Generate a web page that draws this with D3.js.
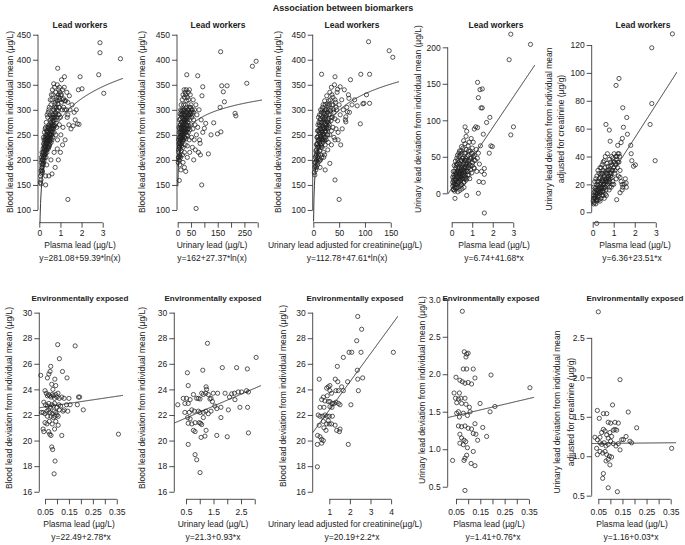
<!DOCTYPE html>
<html>
<head>
<meta charset="utf-8">
<script src="https://cdn.jsdelivr.net/npm/d3@7"></script>
<style>
  body { margin: 0; background: #fff; }
  svg text { font-family: "Liberation Sans", Arial, Helvetica, sans-serif; fill: #222; }
</style>
</head>
<body>
<div id="chart"></div>
<script>
// ---- data ----
const mainTitle = 'Association between biomarkers';
const groupTitles = ['Lead workers', 'Environmentally exposed'];

// Lead workers: plasma lead vs blood lead
const wkPlasmaBlood = [
  [0.08,160],[0.1,172],[0.12,185],[0.1,195],[0.14,200],[0.15,178],[0.18,190],[0.2,205],[0.22,198],[0.2,215],
  [0.25,210],[0.24,222],[0.28,215],[0.3,228],[0.27,235],[0.32,205],[0.33,240],[0.35,220],[0.36,232],[0.38,248],
  [0.4,226],[0.4,255],[0.42,238],[0.44,262],[0.45,245],[0.46,230],[0.48,252],[0.5,268],[0.5,240],[0.52,258],
  [0.54,275],[0.55,248],[0.56,235],[0.58,262],[0.6,282],[0.6,255],[0.62,270],[0.64,245],[0.65,290],[0.66,262],
  [0.68,278],[0.7,300],[0.7,255],[0.72,285],[0.74,268],[0.75,310],[0.76,295],[0.78,250],[0.8,280],[0.8,320],
  [0.82,265],[0.84,300],[0.86,240],[0.88,312],[0.9,290],[0.92,325],[0.95,270],[0.96,305],[1.0,330],[1.0,285],
  [1.02,250],[1.05,315],[1.08,300],[1.1,340],[1.12,265],[1.15,322],[1.18,345],[1.2,300],[1.22,240],[1.25,318],
  [1.3,335],[1.32,285],[1.35,315],[1.4,270],[1.42,328],[1.45,300],[1.5,262],[1.55,310],[1.6,268],[1.65,295],
  [1.7,280],[1.75,300],[1.8,272],[0.05,155],[0.3,150],[0.45,168],[0.6,172],[0.75,185],[0.9,200],[1.0,215],
  [1.1,230],[0.35,190],[0.55,200],[0.7,215],[0.85,222],[0.3,265],[0.4,285],[0.45,300],[0.55,310],[0.6,320],
  [0.5,290],[0.65,330],[0.72,345],[0.85,350],[0.95,345],[1.05,360],[0.15,210],[0.18,222],[0.2,232],[0.22,240],
  [0.25,228],[0.28,245],[0.3,212],[0.3,250],[0.32,232],[0.34,258],[0.36,215],[0.38,238],[0.4,242],[0.42,222],
  [0.42,265],[0.44,235],[0.46,255],[0.48,228],[0.5,250],[0.52,238],[0.54,262],[0.56,250],[0.58,272],[0.6,240],
  [0.62,258],[0.64,268],[0.35,245],[0.25,218],[0.18,205],[0.12,200],[0.16,192],[0.3,168],[0.08,152],
  [0.1,180],[0.12,190],[0.14,185],[0.16,200],[0.18,215],[0.2,195],[0.22,210],[0.24,230],[0.26,205],[0.28,225],
  [0.3,240],[0.32,220],[0.34,235],[0.36,250],[0.38,225],[0.4,265],[0.42,248],[0.44,225],[0.46,270],[0.48,240],
  [0.5,260],[0.52,280],[0.54,245],[0.56,268],[0.58,285],[0.6,265],[0.62,290],[0.64,278],[0.66,300],[0.68,268],
  [0.7,290],[0.72,305],[0.74,280],[0.76,315],[0.78,290],[0.8,305],[0.82,325],[0.84,285],[0.86,318],[0.88,298],
  [0.9,330],[0.92,305],[0.94,290],[0.96,320],[0.98,335],[0.7,270],[0.66,285],[0.58,250],[0.5,232],[0.44,245],
  [0.38,258],[0.26,240],[0.22,225],[0.14,175],[0.06,168],[0.08,178],[0.1,205],[0.13,215],[0.2,245],[0.24,255],
  [0.28,262],[0.33,275],[0.37,290],[0.42,295],[0.47,305],[0.52,320],[0.57,330],[0.62,340],[0.68,352],[0.78,335],
  [0.92,340],[1.05,330],[1.1,320],[1.15,305],[1.2,318],[1.28,300],[1.35,290],
  [2.87,434],[2.87,414],[3.84,402],[2.81,370],[3.05,333],[0.87,383],[1.93,366],[1.19,366],[1.85,340],[2.02,342],
  [1.88,271],[1.35,121]
];

// Lead workers: urinary lead vs blood lead
const wkUrineBlood = [
  [2,195],[3,205],[4,215],[5,200],[5,225],[6,235],[7,210],[8,245],[8,190],[9,222],[10,255],[10,232],[11,205],
  [12,265],[12,240],[13,218],[14,275],[14,250],[15,228],[16,285],[16,260],[17,238],[18,210],[18,270],[19,248],
  [20,292],[20,225],[21,258],[22,280],[22,240],[23,300],[24,265],[25,215],[25,245],[26,288],[27,272],[28,255],
  [28,230],[29,310],[30,282],[30,262],[31,242],[32,295],[33,270],[34,250],[34,318],[35,285],[36,228],[37,262],
  [38,300],[38,275],[40,255],[40,290],[41,320],[42,268],[43,240],[44,305],[45,280],[46,260],[47,330],[48,292],
  [50,270],[50,310],[52,245],[53,285],[55,300],[57,262],[58,320],[60,280],[62,240],[63,300],[65,270],[66,220],
  [68,310],[70,250],[72,290],[75,265],[78,215],[80,300],[82,240],[85,210],[88,280],[6,228],[9,240],[11,250],
  [13,262],[15,245],[17,255],[19,268],[21,240],[23,255],[24,278],[26,262],[27,245],[29,268],[31,278],[33,258],
  [35,268],[37,248],[39,262],[11,270],[15,290],[18,300],[22,310],[25,325],[28,335],[32,340],[40,335],[44,340],
  [12,180],[20,195],[25,185],[36,205],[45,215],[55,225],[60,200],
  [3,220],[4,232],[5,245],[6,255],[7,225],[7,262],[8,235],[9,270],[10,245],[10,282],[11,230],[12,255],[12,290],
  [13,240],[14,265],[14,298],[15,255],[16,275],[16,235],[17,290],[18,260],[18,245],[19,282],[20,270],[20,255],
  [21,298],[22,265],[23,275],[24,290],[25,258],[26,280],[26,300],[27,265],[28,290],[29,280],[30,298],[31,255],
  [32,285],[33,305],[34,270],[35,295],[36,280],[38,290],[40,300],[42,285],[44,295],[46,290],[48,305],[50,295],
  [52,300],[55,290],[58,295],[4,205],[6,200],[9,208],[3,240],[5,265],[7,280],[9,292],[11,300],[13,310],[17,320],
  [20,330],[24,340],[30,330],[36,325],
  [161,416],[294,397],[280,387],[259,353],[34,370],[75,368],[94,346],[91,328],[165,348],[185,348],[171,336],
  [175,316],[159,305],[215,293],[218,288],[135,274],[125,250],[149,252],[162,256],[100,263],[94,255],[115,212],
  [90,150],[69,103],[105,273],[84,233],[30,177],[6,159]
];

// Lead workers: creatinine-adjusted urinary lead vs blood lead
const wkUrineCreatBlood = [
  [3,185],[4,195],[5,208],[5,180],[6,220],[7,200],[7,232],[8,190],[8,245],[9,215],[10,228],[10,258],[11,202],
  [11,240],[12,270],[12,218],[13,252],[13,185],[14,230],[14,282],[15,262],[15,210],[16,242],[16,295],[17,225],
  [17,270],[18,250],[18,305],[19,235],[19,280],[20,262],[20,215],[21,292],[21,245],[22,272],[22,318],[23,255],
  [23,230],[24,300],[24,282],[25,265],[25,240],[26,328],[26,290],[27,250],[27,275],[28,308],[29,262],[29,235],
  [30,290],[30,318],[31,270],[32,250],[32,335],[33,298],[34,278],[35,258],[35,345],[36,310],[37,285],[38,265],
  [38,325],[39,300],[40,245],[41,350],[42,282],[43,315],[44,262],[45,300],[46,335],[47,278],[48,255],[50,310],
  [52,290],[55,320],[56,262],[58,300],[60,340],[62,280],[65,305],[68,330],[70,295],[75,310],[80,320],
  [6,210],[8,225],[9,238],[10,210],[11,260],[12,235],[13,268],[14,248],[15,225],[16,258],[17,240],[18,268],
  [19,252],[20,240],[21,275],[22,258],[23,285],[24,245],[26,270],[28,250],[30,265],[8,205],[12,198],[16,205],
  [22,210],[28,220],[35,230],[42,240],[2,175],[3,170],
  [4,205],[5,218],[6,230],[6,198],[7,245],[7,215],[8,258],[8,232],[9,270],[9,248],[10,240],[10,285],[11,225],
  [11,275],[12,255],[12,290],[13,242],[13,280],[14,262],[14,300],[15,248],[15,290],[16,275],[16,228],[17,300],
  [17,255],[18,285],[18,238],[19,265],[19,310],[20,295],[20,250],[21,282],[21,262],[22,298],[22,240],[23,270],
  [23,310],[24,288],[24,258],[25,300],[25,278],[26,262],[27,295],[27,312],[28,280],[29,300],[30,275],[31,310],
  [32,290],[33,320],[34,300],[35,285],[36,330],[38,310],[40,295],[42,320],[44,305],[3,195],[4,188],[6,185],
  [9,195],[14,200],[20,205],
  [107,436],[147,418],[154,405],[109,371],[92,371],[103,330],[109,313],[98,313],[96,312],[85,308],[72,360],
  [63,286],[63,276],[91,272],[16,371],[42,366],[52,346],[47,341],[32,193],[23,180],[42,160],[50,121],[69,323],
  [66,296],[53,230],[48,240]
];

// Lead workers: plasma lead vs urinary lead
const wkPlasmaUrine = [
  [0.05,10],[0.08,18],[0.1,5],[0.1,25],[0.12,14],[0.15,30],[0.15,8],[0.18,20],[0.2,35],[0.2,12],[0.22,26],
  [0.25,40],[0.25,16],[0.28,30],[0.3,8],[0.3,45],[0.3,22],[0.32,35],[0.35,15],[0.35,50],[0.38,28],[0.4,40],
  [0.4,10],[0.42,22],[0.42,52],[0.45,33],[0.45,18],[0.48,45],[0.5,28],[0.5,55],[0.5,12],[0.52,38],[0.55,20],
  [0.55,48],[0.58,30],[0.6,42],[0.6,15],[0.62,55],[0.65,25],[0.65,36],[0.68,48],[0.7,18],[0.7,60],[0.72,32],
  [0.75,42],[0.78,25],[0.8,52],[0.8,65],[0.82,35],[0.85,45],[0.88,20],[0.9,58],[0.9,38],[0.95,48],[0.98,28],
  [1.0,62],[1.02,42],[1.05,70],[1.08,35],[1.1,52],[1.15,45],[1.2,60],[1.22,30],[1.25,48],[1.3,55],[1.35,40],
  [1.4,65],[1.45,30],[0.15,18],[0.2,24],[0.25,28],[0.3,32],[0.35,30],[0.4,26],[0.45,24],[0.5,36],[0.55,32],
  [0.6,28],[0.65,45],[0.7,40],[0.75,30],[0.2,6],[0.28,12],[0.38,20],[0.48,22],[0.58,24],[0.68,22],[0.05,22],
  [0.08,30],[0.12,38],[0.18,44],[0.28,52],[0.38,58],[0.48,64],[0.58,72],[0.7,78],[0.85,70],[0.95,75],
  [0.05,15],[0.07,5],[0.1,12],[0.12,22],[0.14,3],[0.16,12],[0.18,28],[0.2,18],[0.22,38],[0.24,8],[0.26,22],
  [0.28,40],[0.3,15],[0.32,28],[0.34,42],[0.36,22],[0.38,35],[0.4,18],[0.42,30],[0.44,45],[0.46,12],[0.48,35],
  [0.5,20],[0.52,48],[0.54,26],[0.56,40],[0.58,15],[0.6,35],[0.62,45],[0.64,20],[0.66,30],[0.68,55],[0.7,35],
  [0.72,45],[0.74,20],[0.76,50],[0.78,38],[0.8,30],[0.82,58],[0.84,25],[0.86,40],[0.9,48],[0.92,32],[0.96,55],
  [1.0,38],[1.05,50],[1.1,45],[0.25,48],[0.35,55],[0.45,58],[0.55,62],[0.65,68],[0.3,2],[0.4,4],[0.5,6],[0.6,8],
  [2.88,218],[3.84,204],[2.8,183],[1.26,152],[1.38,142],[1.49,143],[1.3,131],[1.43,117],[1.49,117],[1.7,97],
  [1.86,104],[3.01,91],[2.88,80],[0.73,85],[0.65,91],[1.17,91],[1.1,88],[1.26,90],[1.54,81],[1.91,65],[1.98,64],
  [1.83,55],[1.59,34],[1.59,26],[1.54,15],[1.33,16],[1.3,0],[1.59,-27],[0.16,-7],[0.73,-3],[1.02,55],[1.1,34]
];

// Lead workers: plasma lead vs creatinine-adjusted urinary lead
const wkPlasmaUrineCreat = [
  [0.02,8],[0.05,12],[0.08,7],[0.1,15],[0.12,10],[0.15,18],[0.15,6],[0.18,13],[0.2,20],[0.22,9],[0.25,16],
  [0.28,22],[0.3,12],[0.32,18],[0.35,25],[0.35,8],[0.38,15],[0.4,21],[0.42,28],[0.45,12],[0.45,18],[0.48,24],
  [0.5,30],[0.5,15],[0.52,20],[0.55,10],[0.55,26],[0.58,32],[0.6,18],[0.62,23],[0.65,28],[0.65,12],[0.68,35],
  [0.7,20],[0.72,25],[0.75,30],[0.78,16],[0.8,38],[0.8,22],[0.82,28],[0.85,33],[0.88,18],[0.9,40],[0.92,25],
  [0.95,30],[0.98,36],[1.0,20],[1.02,42],[1.05,28],[1.08,35],[1.1,40],[1.12,24],[1.15,38],[1.18,32],[1.2,42],
  [1.22,26],[1.25,36],[1.28,40],[1.3,30],[1.35,22],[1.4,16],[1.5,20],[0.1,10],[0.15,12],[0.2,14],[0.25,11],
  [0.3,17],[0.35,20],[0.4,14],[0.45,22],[0.5,20],[0.55,18],[0.6,24],[0.65,22],[0.7,28],[0.75,24],[0.8,18],
  [0.85,26],[0.9,30],[0.95,22],[0.05,18],[0.1,22],[0.2,26],[0.3,28],[0.4,32],[0.5,36],[0.6,40],
  [0.03,10],[0.06,14],[0.09,11],[0.12,17],[0.14,14],[0.17,9],[0.19,16],[0.21,22],[0.24,13],[0.26,19],[0.29,15],
  [0.31,24],[0.33,14],[0.36,18],[0.38,27],[0.41,17],[0.43,23],[0.46,15],[0.48,28],[0.51,22],[0.53,17],[0.56,25],
  [0.58,20],[0.61,29],[0.63,16],[0.66,24],[0.68,30],[0.71,22],[0.73,33],[0.76,26],[0.78,21],[0.81,31],[0.83,24],
  [0.86,36],[0.88,28],[0.91,34],[0.93,20],[0.96,39],[1.0,32],[1.03,36],[1.06,30],[1.1,34],[1.15,40],[1.2,36],
  [1.25,42],[0.15,24],[0.25,30],[0.35,32],[0.45,34],[0.55,37],[0.7,42],[0.05,6],[0.2,8],[0.3,9],[0.4,10],
  [0.5,12],[0.6,13],[1.3,25],[1.4,20],[1.55,24],[1.6,18],
  [3.79,128],[2.81,118],[1.25,96],[1.11,91],[1.43,75],[1.62,68],[2.81,78],[2.73,63],[1.46,61],[1.41,53],
  [0.79,59],[0.63,63],[0.83,51],[1.19,48],[1.35,50],[1.65,56],[1.81,48],[1.83,42],[1.86,37],[2.03,34],[1.94,33],
  [2.97,37],[0.19,-8],[1.14,9],[1.3,14],[1.43,18],[1.59,21]
];

// Environmentally exposed: plasma lead vs blood lead
const envPlasmaBlood = [
  [0.103,27.5],[0.176,27.4],[0.110,26.4],[0.032,25.1],[0.074,25.8],[0.071,25.4],[0.066,25.2],[0.060,24.9],
  [0.091,24.8],[0.123,25.4],[0.142,24.9],[0.078,24.4],[0.095,24.3],[0.104,23.7],[0.083,24.0],[0.05,23.9],
  [0.055,23.7],[0.06,23.5],[0.065,23.6],[0.07,23.5],[0.075,23.4],[0.08,23.6],[0.085,23.5],[0.09,23.3],
  [0.095,23.6],[0.1,23.4],[0.11,23.3],[0.12,23.4],[0.13,23.3],[0.15,23.3],[0.19,23.4],[0.195,23.4],
  [0.045,23.0],[0.052,22.8],[0.06,22.7],[0.066,22.9],[0.072,22.6],[0.078,22.8],[0.085,22.7],[0.09,22.9],
  [0.1,22.6],[0.108,22.8],[0.115,22.7],[0.14,22.8],[0.155,22.8],[0.185,22.8],[0.21,22.4],[0.035,22.2],
  [0.042,22.2],[0.05,22.1],[0.058,22.3],[0.065,22.4],[0.07,22.2],[0.08,22.1],[0.088,22.3],[0.095,22.2],
  [0.1,22.0],[0.11,22.4],[0.125,22.3],[0.13,22.4],[0.145,22.3],[0.06,21.9],[0.075,21.9],[0.085,21.8],
  [0.092,21.9],[0.105,21.9],[0.05,21.4],[0.058,21.3],[0.068,21.5],[0.08,21.3],[0.095,21.5],[0.105,21.2],
  [0.042,20.9],[0.045,20.7],[0.065,20.7],[0.07,20.5],[0.09,20.9],[0.075,20.4],[0.12,20.4],[0.357,20.5],
  [0.078,19.5],[0.082,19.3],[0.092,18.4],[0.088,17.4]
];

// Environmentally exposed: urinary lead vs blood lead
const envUrineBlood = [
  [0.58,19.7],[0.83,18.9],[0.89,18.5],[1.01,17.5],[1.28,27.6],[0.55,25.3],[1.11,25.5],[1.82,25.7],[2.34,25.7],
  [2.73,25.6],[3.05,26.5],[0.58,24.3],[1.23,24.2],[1.25,24.0],[0.2,22.8],[0.4,23.3],[0.52,23.3],[0.46,22.9],
  [0.58,22.9],[0.65,23.2],[0.77,23.6],[0.89,23.3],[0.95,23.3],[1.01,23.25],[1.07,23.7],[1.13,23.6],[1.22,23.7],
  [1.31,23.6],[1.41,23.3],[1.49,23.7],[1.65,23.7],[1.92,23.7],[1.37,23.25],[1.46,23.05],[1.55,22.7],[1.77,22.6],
  [1.62,22.5],[0.46,22.2],[0.62,22.2],[0.71,22.4],[0.8,22.3],[0.95,22.3],[1.01,22.2],[1.13,22.2],[1.22,22.3],
  [1.31,22.1],[1.41,22.3],[0.65,21.7],[0.56,21.8],[0.83,21.4],[0.98,21.4],[1.03,21.35],[1.07,21.25],[1.13,21.8],
  [1.77,21.8],[0.58,21.35],[0.71,21.3],[0.77,20.8],[0.83,20.7],[1.05,20.25],[1.19,20.35],[1.23,20.8],[1.62,20.4],
  [2.0,20.3],[2.08,23.4],[2.16,23.65],[2.26,23.7],[2.4,23.8],[2.52,23.8],[2.7,23.9],[2.77,23.8],[2.46,22.6],
  [2.74,22.6],[2.77,20.6],[2.04,22.4],[2.28,23.2]
];

// Environmentally exposed: creatinine-adjusted urinary lead vs blood lead
const envUrineCreatBlood = [
  [2.38,29.7],[2.57,28.7],[2.33,27.8],[1.96,26.9],[2.09,26.9],[2.54,26.9],[4.11,26.9],[1.68,26.5],[1.39,25.8],
  [2.36,25.5],[0.51,24.8],[1.29,24.8],[1.41,24.6],[1.89,24.6],[2.62,24.9],[2.38,24.8],[2.41,23.9],[1.6,24.2],
  [1.68,23.9],[0.95,24.2],[1.03,24.3],[0.87,24.1],[1.03,23.9],[1.11,23.7],[1.32,23.9],[1.44,23.9],[0.9,23.5],
  [0.71,23.4],[0.63,23.2],[0.79,23.1],[0.95,23.05],[1.03,23.05],[1.15,22.9],[1.23,22.9],[1.32,23.0],[1.44,22.9],
  [1.52,22.8],[2.05,22.8],[0.55,22.6],[0.74,22.6],[1.03,22.65],[1.13,22.6],[0.46,22.0],[0.55,21.9],[0.68,21.9],
  [0.79,22.0],[0.9,21.9],[1.0,21.9],[1.15,21.9],[0.71,21.5],[0.95,21.55],[0.87,21.3],[1.0,21.3],[1.11,21.3],
  [0.51,21.2],[0.74,21.0],[0.84,20.8],[1.36,20.8],[1.49,20.7],[1.52,20.9],[1.28,21.2],[0.43,20.4],[0.55,20.3],
  [0.63,20.1],[0.71,20.0],[0.42,19.7],[0.63,19.8],[1.92,19.7],[0.42,17.95]
];

// Environmentally exposed: plasma lead vs urinary lead
const envPlasmaUrine = [
  [0.076,2.84],[0.084,2.30],[0.094,2.27],[0.091,2.23],[0.1,2.28],[0.08,2.07],[0.094,2.07],[0.121,2.07],
  [0.194,1.99],[0.354,1.82],[0.05,1.96],[0.066,1.92],[0.076,1.9],[0.087,1.88],[0.1,1.89],[0.114,1.87],
  [0.128,1.95],[0.042,1.75],[0.048,1.68],[0.06,1.67],[0.07,1.68],[0.087,1.68],[0.073,1.61],[0.091,1.6],
  [0.105,1.56],[0.06,1.5],[0.053,1.48],[0.064,1.43],[0.08,1.48],[0.097,1.45],[0.108,1.5],[0.149,1.61],
  [0.19,1.5],[0.21,1.57],[0.06,1.31],[0.073,1.3],[0.087,1.31],[0.1,1.28],[0.114,1.27],[0.128,1.34],[0.121,1.21],
  [0.132,1.2],[0.16,1.29],[0.139,1.12],[0.176,1.17],[0.066,1.2],[0.073,1.15],[0.083,1.12],[0.09,1.1],[0.066,1.08],
  [0.08,1.06],[0.097,1.02],[0.121,0.97],[0.094,0.92],[0.087,0.88],[0.083,0.85],[0.112,0.81],[0.036,0.85],
  [0.128,0.78],[0.087,0.45],[0.053,1.62],[0.064,1.75]
];

// Environmentally exposed: plasma lead vs creatinine-adjusted urinary lead
const envPlasmaUrineCreat = [
  [0.05,2.83],[0.14,1.97],[0.109,1.65],[0.046,1.58],[0.071,1.54],[0.085,1.54],[0.174,1.56],[0.209,1.36],
  [0.354,1.10],[0.091,1.43],[0.101,1.42],[0.119,1.43],[0.133,1.42],[0.054,1.48],[0.036,1.24],[0.046,1.21],
  [0.057,1.24],[0.064,1.30],[0.071,1.34],[0.078,1.32],[0.085,1.27],[0.091,1.23],[0.098,1.30],[0.105,1.25],
  [0.112,1.33],[0.119,1.34],[0.126,1.33],[0.147,1.21],[0.154,1.21],[0.165,1.25],[0.181,1.19],[0.188,1.17],
  [0.057,1.17],[0.064,1.15],[0.074,1.17],[0.082,1.13],[0.091,1.15],[0.101,1.19],[0.112,1.16],[0.123,1.13],
  [0.133,1.16],[0.14,1.08],[0.057,1.06],[0.068,1.04],[0.078,1.06],[0.085,1.02],[0.096,1.0],[0.105,0.99],
  [0.091,0.96],[0.082,0.94],[0.098,0.89],[0.071,0.78],[0.068,0.72],[0.091,0.6],[0.129,0.55],[0.043,1.1],
  [0.046,1.02]
];

const seriesList = [wkPlasmaBlood, wkUrineBlood, wkUrineCreatBlood, wkPlasmaUrine, wkPlasmaUrineCreat,
  envPlasmaBlood, envUrineBlood, envUrineCreatBlood, envPlasmaUrine, envPlasmaUrineCreat];

// fitted lines: y = a + b*ln(x) or y = a + b*x
const fitType = ['log','log','log','lin','lin','lin','lin','lin','lin','lin'];
const fitA = [281.08, 162, 112.78, 6.74, 6.36, 22.49, 21.3, 20.19, 1.41, 1.16];
const fitB = [59.39, 27.37, 47.61, 41.68, 23.51, 2.78, 0.93, 2.2, 0.76, 0.03];
const equations = ['y=281.08+59.39*ln(x)', 'y=162+27.37*ln(x)', 'y=112.78+47.61*ln(x)', 'y=6.74+41.68*x',
  'y=6.36+23.51*x', 'y=22.49+2.78*x', 'y=21.3+0.93*x', 'y=20.19+2.2*x', 'y=1.41+0.76*x', 'y=1.16+0.03*x'];

const xLabels = ['Plasma lead (µg/L)', 'Urinary lead (µg/L)', 'Urinary lead adjusted for creatinine(µg/L)',
  'Plasma lead (µg/L)', 'Plasma lead (µg/L)'];
const yLabels = [
  ['Blood lead deviation from individual mean (µg/L)'],
  ['Blood lead deviation from individual mean (µg/L)'],
  ['Blood lead deviation from individual mean (µg/L)'],
  ['Urinary lead deviation from individual mean (µg/L)'],
  ['Urinary lead deviation from individual mean', 'adjusted for creatinine (µg/g)']
];

const xTicks = [
  [0,1,2,3], [0,50,100,150,200,250,300], [0,50,100,150], [0,1,2,3], [0,1,2,3],
  [0.05,0.1,0.15,0.2,0.25,0.3,0.35], [0.5,1,1.5,2,2.5,3], [1,2,3,4],
  [0.05,0.1,0.15,0.2,0.25,0.3,0.35], [0.05,0.1,0.15,0.2,0.25,0.3,0.35]
];
const xTickLabels = [
  [0,1,2,3], [0,50,150,250], [0,50,100,150], [0,1,2,3], [0,1,2,3],
  [0.05,0.15,0.25,0.35], [0.5,1.5,2.5], [1,2,3,4], [0.05,0.15,0.25,0.35], [0.05,0.15,0.25,0.35]
];
const yTicks = [
  [100,150,200,250,300,350,400,450], [100,150,200,250,300,350,400,450], [100,150,200,250,300,350,400,450],
  [0,50,100,150,200], [0,20,40,60,80,100,120],
  [16,18,20,22,24,26,28,30], [16,18,20,22,24,26,28,30], [16,18,20,22,24,26,28,30],
  [0.5,1,1.5,2,2.5,3], [0.5,1,1.5,2,2.5]
];
const yDecimals = [0,0,0,0,0,0,0,0,1,1];

// ---- layout (pixels) ----
// tx: title centre, lx: x-label centre, ex: equation centre
const layout = [
  { left: 38,    right: 123,   top: 29,  bottom: 222.7, xDom: [-0.062, 3.96],  yDom: [74.6, 461.4],  yl: [9.7],  ylc: 122, tx: 80,  lx: 80,  ex: 80 },
  { left: 177,   right: 262,   top: 29,  bottom: 222.7, xDom: [-2.6, 316],     yDom: [74.6, 461.4],  yl: [142.5], ylc: 122, tx: 218, lx: 212, ex: 212 },
  { left: 312.7, right: 399,   top: 29,  bottom: 222.7, xDom: [-1.2, 166],     yDom: [74.6, 461.4],  yl: [278], ylc: 122, tx: 352, lx: 345, ex: 347 },
  { left: 447.7, right: 535,   top: 29,  bottom: 222.7, xDom: [-0.195, 4.06],  yDom: [-40.3, 225.1], yl: [418], ylc: 119, tx: 496, lx: 494, ex: 494 },
  { left: 591.7, right: 677,   top: 29,  bottom: 222.7, xDom: [-0.048, 4.01],  yDom: [-7.5, 131.5],  yl: [549.3, 560.7], ylc: 129, tx: 643, lx: 635, ex: 632 },
  { left: 39.3,  right: 123,   top: 305.6, bottom: 499.3, xDom: [0.0261, 0.376], yDom: [15.41, 30.55], yl: [9], ylc: 398, tx: 80, lx: 79, ex: 81 },
  { left: 174.3, right: 261,   top: 305.6, bottom: 499.3, xDom: [0.0745, 3.227], yDom: [15.41, 30.55], yl: [142.3], ylc: 398, tx: 213, lx: 213, ex: 213 },
  { left: 312.7, right: 398,   top: 305.6, bottom: 499.3, xDom: [0.194, 4.335],  yDom: [15.41, 30.55], yl: [282.7], ylc: 396, tx: 355, lx: 345, ex: 352 },
  { left: 447.7, right: 534.3, top: 292, bottom: 499.3, xDom: [0.0159, 0.372], yDom: [0.332, 3.097], yl: [421.7], ylc: 390, tx: 491, lx: 489, ex: 493 },
  { left: 591.7, right: 676,   top: 300, bottom: 499.3, xDom: [0.0226, 0.372], yDom: [0.454, 2.98],  yl: [557.3, 570.7], ylc: 412, tx: 635, lx: 632, ex: 631 }
];
const rowText = [
  { title: 25, titleSize: 8.5, tick: 233, xlab: 245, eq: 258 },
  { title: 298.3, titleSize: 8, tick: 512, xlab: 524, eq: 537 }
];

const FS = 8.5;
const ink = '#222';

const svg = d3.select('#chart').append('svg')
  .attr('width', 685)
  .attr('height', 545);

svg.append('text')
  .attr('x', 343).attr('y', 8.3).attr('dy', '0.35em')
  .attr('text-anchor', 'middle')
  .attr('font-weight', 'bold')
  .style('font-size', '9px')
  .text(mainTitle);

layout.forEach((L, i) => {
  const row = i < 5 ? 0 : 1;
  const col = i % 5;
  const rt = rowText[row];
  const x = d3.scaleLinear().domain(L.xDom).range([L.left, L.right]);
  const y = d3.scaleLinear().domain(L.yDom).range([L.bottom, L.top]);
  const g = svg.append('g');

  // clip for fitted line
  g.append('clipPath').attr('id', `clip${i}`)
    .append('rect')
    .attr('x', L.left).attr('y', L.top)
    .attr('width', L.right - L.left).attr('height', L.bottom - L.top);

  // y axis (line spans only the ticks, like base R)
  const yt = yTicks[i];
  const ya = g.append('g').attr('transform', `translate(${L.left},0)`)
    .call(d3.axisLeft(y).tickValues(yt).tickSize(5).tickPadding(2)
      .tickFormat(d => d3.format(`.${yDecimals[i]}f`)(d)));
  ya.select('.domain').remove();
  ya.append('line')
    .attr('y1', y(yt[0])).attr('y2', y(yt[yt.length - 1]))
    .attr('stroke', ink).attr('stroke-width', 0.8);
  ya.selectAll('.tick line').attr('stroke', ink).attr('stroke-width', 0.8);
  ya.selectAll('.tick text').attr('fill', ink).style('font-size', FS + 'px')
    .style('font-family', '"Liberation Sans", Arial, sans-serif');

  // x axis
  const xt = xTicks[i];
  const shown = xTickLabels[i];
  const xa = g.append('g').attr('transform', `translate(0,${L.bottom})`)
    .call(d3.axisBottom(x).tickValues(xt).tickSize(5)
      .tickFormat(d => shown.some(s => Math.abs(s - d) < 1e-9) ? String(d) : ''));
  xa.select('.domain').remove();
  xa.append('line')
    .attr('x1', x(xt[0])).attr('x2', x(xt[xt.length - 1]))
    .attr('stroke', ink).attr('stroke-width', 0.8);
  xa.selectAll('.tick line').attr('stroke', ink).attr('stroke-width', 0.8);
  xa.selectAll('.tick text')
    .attr('y', rt.tick - L.bottom).attr('dy', '0.35em')
    .attr('fill', ink).style('font-size', FS + 'px')
    .style('font-family', '"Liberation Sans", Arial, sans-serif');

  // points
  g.append('g').selectAll('circle')
    .data(seriesList[i])
    .enter()
    .append('circle')
    .attr('cx', d => x(d[0]))
    .attr('cy', d => y(d[1]))
    .attr('r', 2.1)
    .attr('fill', 'none')
    .attr('stroke', ink)
    .attr('stroke-width', 0.75);

  // fitted curve / line
  const xs = d3.range(0, 201).map(k => L.xDom[0] + (L.xDom[1] - L.xDom[0]) * k / 200)
    .filter(v => fitType[i] === 'lin' || v > 0);
  const fit = v => fitType[i] === 'log' ? fitA[i] + fitB[i] * Math.log(v) : fitA[i] + fitB[i] * v;
  g.append('path')
    .datum(xs)
    .attr('clip-path', `url(#clip${i})`)
    .attr('fill', 'none')
    .attr('stroke', ink)
    .attr('stroke-width', 0.9)
    .attr('d', d3.line().x(v => x(v)).y(v => y(fit(v))));

  // titles and labels
  g.append('text')
    .attr('x', L.tx).attr('y', rt.title).attr('dy', '0.35em')
    .attr('text-anchor', 'middle').attr('font-weight', 'bold')
    .style('font-size', rt.titleSize + 'px')
    .text(groupTitles[row]);

  g.append('text')
    .attr('x', L.lx).attr('y', rt.xlab).attr('dy', '0.35em')
    .attr('text-anchor', 'middle')
    .style('font-size', FS + 'px')
    .text(xLabels[col]);

  g.append('text')
    .attr('x', L.ex).attr('y', rt.eq).attr('dy', '0.35em')
    .attr('text-anchor', 'middle')
    .style('font-size', FS + 'px')
    .text(equations[i]);

  yLabels[col].forEach((txt, k) => {
    g.append('text')
      .attr('transform', `translate(${L.yl[k]},${L.ylc}) rotate(-90)`)
      .attr('dy', '0.35em')
      .attr('text-anchor', 'middle')
      .style('font-size', FS + 'px')
      .text(txt);
  });
});
</script>
</body>
</html>
